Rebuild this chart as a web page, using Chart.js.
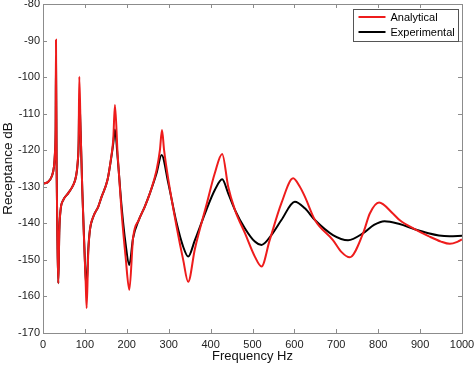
<!DOCTYPE html>
<html>
<head>
<meta charset="utf-8">
<script src="https://cdn.jsdelivr.net/npm/chart.js@4/dist/chart.umd.min.js"></script>
<style>
html,body{margin:0;padding:0;background:#fff;}
#wrap{width:474px;height:366px;position:relative;}
</style>
</head>
<body>
<div id="wrap"><canvas id="c" width="474" height="366"></canvas></div>
<script>
// Frequency (Hz) and receptance (dB)
const analyticalHz = [0,12.7,20.7,26.2,28.6,30.2,31,32.5,34.5,36.5,39,42,48.5,60,72.3,78.7,82.7,85.1,86.6,89.9,93.8,97.8,101.8,104.2,108,112,120,132,140,154,162,167.7,171.7,178,187.6,197,206,215,229,243,255,271,279,284,289,299,319,334.6,346.5,362.5,390,410,427.6,442,458,482,505.6,521.5,541,569,597,613,625,649,692,712,732,764,780,802,835,851,887,920,950,971,990,1000];
const analyticalDb = [-129.2,-128.6,-127.2,-124.5,-120.5,-113,-89.8,-125,-145,-156.4,-141.8,-136.3,-133.6,-131.8,-129.5,-127.2,-123.3,-117,-99.9,-115,-131,-144,-156,-163.2,-148,-141.8,-138.2,-135.4,-132.7,-128.1,-122.5,-117,-107.6,-121,-137,-149,-158.2,-144,-139,-135.4,-131.8,-125.5,-120,-114.5,-120,-128,-141,-150,-156,-147,-135,-126.3,-121,-130,-136.3,-142.7,-149.1,-151.8,-144.6,-134.5,-127.7,-130,-132.7,-139.1,-144.6,-147.8,-149.3,-142.7,-137.3,-134.3,-137.3,-139.1,-141.6,-143.5,-145,-145.6,-145,-144.4];
const experimentalHz = [0,12.7,20.7,26.2,28.6,30.2,31,32.5,34.5,36.5,39,42,48.5,60,72.3,78.7,82.7,85.1,86.6,89.9,93.8,97.8,101.8,104.2,108,112,120,132,140,154,162,167.7,171.7,178,187.6,197,206,215,229,243,255,271,283,299,319,334.6,346.5,362.5,390,410,427.6,442,458,482,505.6,521.5,545,569,601,625,649,692,728,764,790,815,851,887,920,945,970,1000];
const experimentalDb = [-129.2,-128.6,-127.2,-124.5,-120.8,-114.5,-95.1,-125,-145,-156.4,-141.8,-136.3,-133.6,-131.8,-129.5,-127.2,-123.6,-118.1,-105.8,-115.4,-130.9,-143.6,-154.6,-156.9,-147.3,-141.8,-138.2,-135.4,-132.7,-128.1,-122.7,-118.1,-114.3,-121.8,-135.4,-145.5,-151.4,-144,-139,-135.4,-131.8,-126.3,-121.3,-129,-140,-146.4,-149.1,-144.6,-136.3,-130.9,-127.95,-131.8,-136.3,-141.4,-145,-145.9,-143.2,-139.1,-134.1,-135.9,-139.1,-143.2,-144.6,-142.7,-140.4,-139.4,-140.2,-141.6,-142.7,-143.3,-143.5,-143.4];
const seriesNames = ['Analytical','Experimental'];
const xTicks = [0,100,200,300,400,500,600,700,800,900,1000];
const yTicks = [-80,-90,-100,-110,-120,-130,-140,-150,-160,-170];

const toPts = (xs, ys) => xs.map((x, i) => ({x: x, y: ys[i]}));
const FONT = '"Liberation Sans", Arial, sans-serif';

const frame = {
  id: 'frame',
  afterDatasetsDraw(chart) {
    const {ctx, chartArea: a, scales} = chart;
    ctx.save();
    ctx.strokeStyle = '#8c8c8c';
    ctx.lineWidth = 1;
    ctx.strokeRect(Math.round(a.left) + 0.5, Math.round(a.top) + 0.5, Math.round(a.right - a.left), Math.round(a.bottom - a.top));
    ctx.beginPath();
    xTicks.forEach(v => {
      const px = Math.round(scales.x.getPixelForValue(v)) + 0.5;
      ctx.moveTo(px, a.bottom); ctx.lineTo(px, a.bottom - 4);
      ctx.moveTo(px, a.top); ctx.lineTo(px, a.top + 4);
    });
    yTicks.forEach(v => {
      const py = Math.round(scales.y.getPixelForValue(v)) + 0.5;
      ctx.moveTo(a.left, py); ctx.lineTo(a.left + 4, py);
      ctx.moveTo(a.right, py); ctx.lineTo(a.right - 4, py);
    });
    ctx.stroke();
    // legend
    const L = 353.5, T = 9.5, W = 105, H = 32;
    ctx.fillStyle = '#fff';
    ctx.fillRect(L, T, W, H);
    ctx.strokeStyle = '#555';
    ctx.strokeRect(L, T, W, H);
    ctx.font = '11px ' + FONT;
    ctx.textBaseline = 'middle';
    ctx.textAlign = 'left';
    chart.data.datasets.forEach((ds, i) => {
      const y = T + 7.5 + i * 15;
      ctx.strokeStyle = ds.borderColor;
      ctx.lineWidth = 2;
      ctx.beginPath(); ctx.moveTo(L + 5, y); ctx.lineTo(L + 32, y); ctx.stroke();
      ctx.fillStyle = '#000';
      ctx.fillText(ds.label, L + 37, y + 0.5);
    });
    ctx.restore();
  }
};

new Chart(document.getElementById('c'), {
  type: 'line',
  data: {
    datasets: [
      {label: seriesNames[0], data: toPts(analyticalHz, analyticalDb), borderColor: '#ee1c1c', borderWidth: 2, pointRadius: 0, cubicInterpolationMode: 'monotone', fill: false},
      {label: seriesNames[1], data: toPts(experimentalHz, experimentalDb), borderColor: '#000000', borderWidth: 2, pointRadius: 0, cubicInterpolationMode: 'monotone', fill: false}
    ]
  },
  options: {
    responsive: false,
    animation: false,
    layout: {padding: {top: 4, right: 12, left: 0, bottom: 0}},
    plugins: {legend: {display: false}, tooltip: {enabled: false}},
    scales: {
      x: {
        type: 'linear', min: 0, max: 1000,
        grid: {display: false, drawTicks: false},
        border: {display: false},
        afterBuildTicks: s => { s.ticks = xTicks.map(v => ({value: v})); },
        ticks: {padding: 5, maxRotation: 0, autoSkip: false, color: '#222', font: {family: FONT, size: 11}, callback: v => String(v)},
        title: {display: true, text: 'Frequency Hz', color: '#111', padding: {top: 0, bottom: 2}, font: {family: FONT, size: 13}},
        afterFit: s => { s.height = 33; s.paddingLeft = 0; s.paddingRight = 0; }
      },
      y: {
        type: 'linear', min: -170, max: -80,
        grid: {display: false, drawTicks: false},
        border: {display: false},
        afterBuildTicks: s => { s.ticks = yTicks.slice().reverse().map(v => ({value: v})); },
        ticks: {padding: 3, autoSkip: false, color: '#222', font: {family: FONT, size: 11}, callback: v => String(v)},
        title: {display: true, text: 'Receptance dB', color: '#111', padding: {top: 0, bottom: 0}, font: {family: FONT, size: 13.5}},
        afterFit: s => { s.width = 43; s.paddingTop = 0; s.paddingBottom = 0; }
      }
    }
  },
  plugins: [frame]
});
</script>
</body>
</html>
